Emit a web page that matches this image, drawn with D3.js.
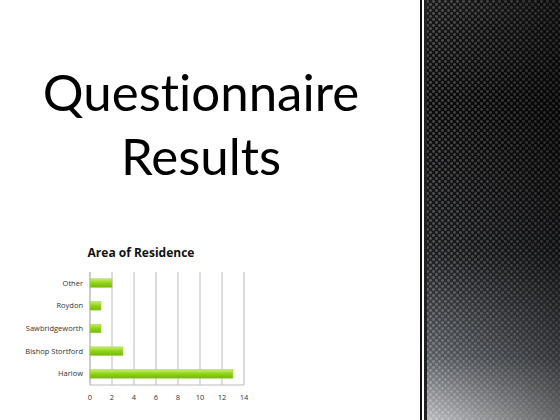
<!DOCTYPE html>
<html><head><meta charset="utf-8">
<script src="https://cdn.jsdelivr.net/npm/d3@7"></script>
<style>body{margin:0;background:#fff}svg{display:block}</style>
</head><body>
<script>
const categories = ["Harlow","Bishop Stortford","Sawbridgeworth","Roydon","Other"];
const values = [13,3,1,1,2];
const ticks = [0,2,4,6,8,10,12,14];

const svg = d3.select("body").append("svg").attr("width",560).attr("height",420);
const defs = svg.append("defs");
const bg = defs.append("linearGradient").attr("id","bg").attr("x1",0).attr("y1",0).attr("x2",0).attr("y2",1);
bg.append("stop").attr("offset","0").attr("stop-color","#1a1a1a");
bg.append("stop").attr("offset","0.25").attr("stop-color","#0a0a0a");
bg.append("stop").attr("offset","0.6").attr("stop-color","#1c1d20");
bg.append("stop").attr("offset","0.85").attr("stop-color","#5a5e64");
bg.append("stop").attr("offset","1").attr("stop-color","#b8babd");
const pat = defs.append("pattern").attr("id","dots").attr("width",6).attr("height",6).attr("patternUnits","userSpaceOnUse");
pat.append("circle").attr("cx",1.5).attr("cy",1.5).attr("r",1.4).attr("fill","rgba(255,255,255,0.25)");
pat.append("circle").attr("cx",4.5).attr("cy",4.5).attr("r",1.4).attr("fill","rgba(255,255,255,0.25)");
const fade = defs.append("linearGradient").attr("id","fade").attr("x1",0).attr("y1",0).attr("x2",1).attr("y2",0);
fade.append("stop").attr("offset","0").attr("stop-color","#000").attr("stop-opacity",0);
fade.append("stop").attr("offset","1").attr("stop-color","#000").attr("stop-opacity",0.45);
const barG = defs.append("linearGradient").attr("id","barg").attr("x1",0).attr("y1",0).attr("x2",0).attr("y2",1);
barG.append("stop").attr("offset","0").attr("stop-color","#c8ee6a");
barG.append("stop").attr("offset","0.5").attr("stop-color","#8fd317");
barG.append("stop").attr("offset","1").attr("stop-color","#74b80c");

svg.append("rect").attr("x",420).attr("y",0).attr("width",140).attr("height",420).attr("fill","url(#bg)");
svg.append("rect").attr("x",427).attr("y",0).attr("width",133).attr("height",420).attr("fill","url(#dots)");
svg.append("rect").attr("x",427).attr("y",0).attr("width",133).attr("height",420).attr("fill","url(#fade)");
svg.append("rect").attr("x",420).attr("y",0).attr("width",2).attr("height",420).attr("fill","#111");
svg.append("rect").attr("x",422).attr("y",0).attr("width",2).attr("height",420).attr("fill","#fff");
svg.append("rect").attr("x",424).attr("y",0).attr("width",3).attr("height",420).attr("fill","#222");

const t = svg.append("text").attr("text-anchor","middle").attr("font-family","Lato, 'Open Sans', sans-serif")
  .attr("font-size",51).attr("fill","#000").style("font-variant-ligatures","none");
t.append("tspan").attr("x",201).attr("y",111).text("Questionnaire");
t.append("tspan").attr("x",201).attr("y",175).text("Results");

const x = d3.scaleLinear().domain([0,14]).range([90,244]);
const y = d3.scaleBand().domain(categories).range([385,272]).paddingInner(0.62).paddingOuter(0.3);
const ff = "'Open Sans', sans-serif";
svg.append("text").attr("x",141).attr("y",257).attr("text-anchor","middle").attr("font-family",ff).attr("font-weight","bold").attr("font-size",12).attr("fill","#111").text("Area of Residence");
svg.append("g").selectAll("line").data(ticks).join("line")
  .attr("x1",d=>x(d)).attr("x2",d=>x(d)).attr("y1",272).attr("y2",385)
  .attr("stroke",d=>d===0?"#999":"#bbb").attr("stroke-width",1);
svg.append("line").attr("x1",90).attr("x2",244).attr("y1",385).attr("y2",385).attr("stroke","#bbb");
svg.append("g").selectAll("rect").data(categories).join("rect")
  .attr("x",x(0)).attr("y",d=>y(d)).attr("height",y.bandwidth())
  .attr("width",(d,i)=>x(values[i])-x(0)).attr("fill","url(#barg)").attr("stroke","#9ccc4a").attr("stroke-width",0.5);
svg.append("g").selectAll("text").data(categories).join("text")
  .attr("x",83).attr("y",d=>y(d)+y.bandwidth()/2+2.5).attr("text-anchor","end")
  .attr("font-family",ff).attr("font-size",7.5).attr("fill","#333").text(d=>d);
svg.append("g").selectAll("text").data(ticks).join("text")
  .attr("x",d=>x(d)).attr("y",400).attr("text-anchor","middle")
  .attr("font-family",ff).attr("font-size",7.5).attr("fill","#333").text(d=>d);
</script>
</body></html>
